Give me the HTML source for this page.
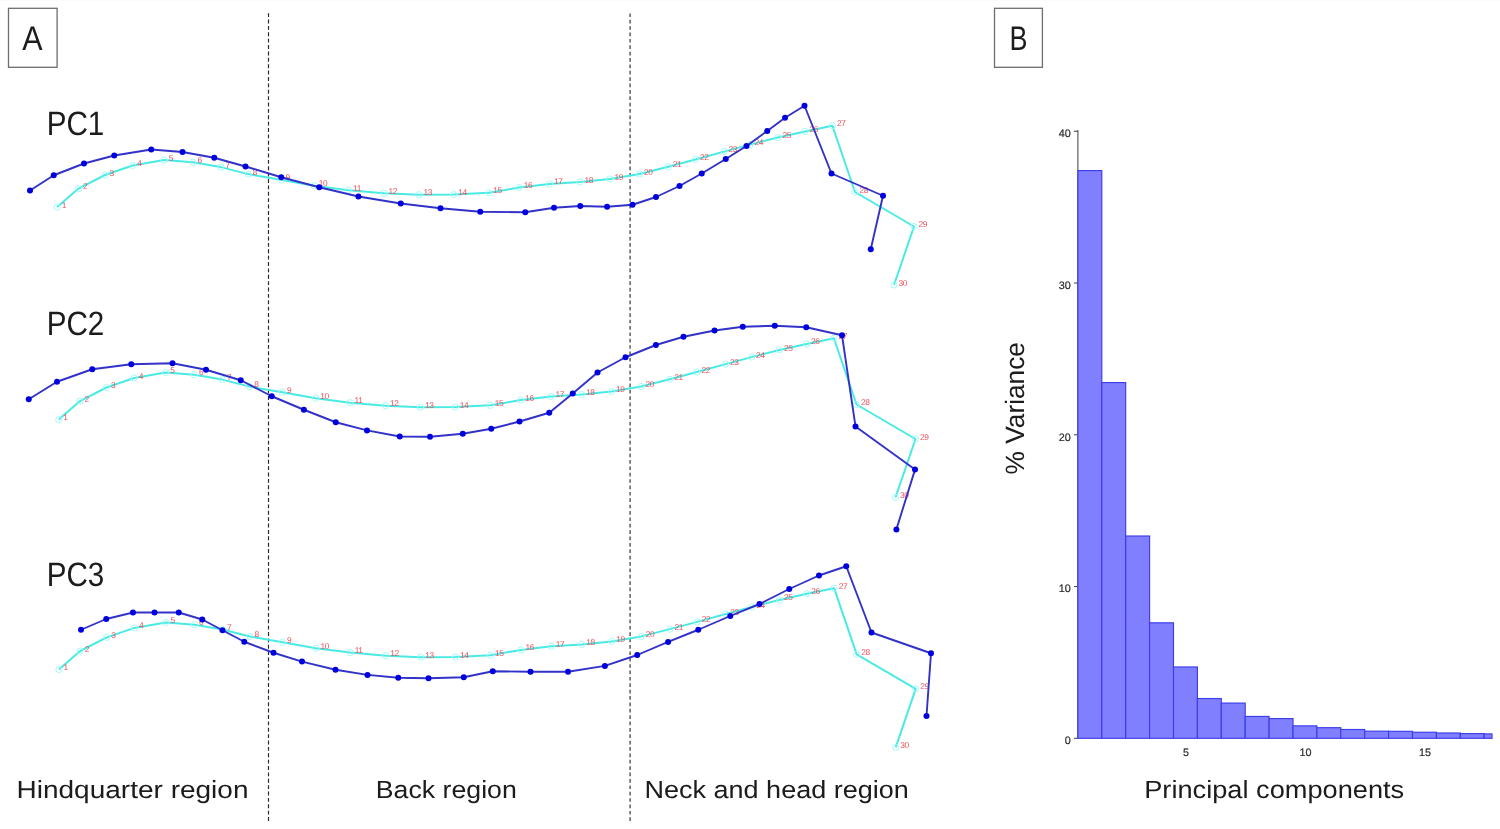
<!DOCTYPE html>
<html lang="en"><head><meta charset="utf-8"><title>PCA shape changes and variance</title>
<style>html,body{margin:0;padding:0;background:#fff;overflow:hidden}body{width:1500px;height:829px;font-family:"Liberation Sans",Arial,sans-serif}svg{display:block}text{font-family:"Liberation Sans",Arial,sans-serif;text-rendering:geometricPrecision}</style>
</head><body>
<svg width="1500" height="829" viewBox="0 0 1500 829">
<defs><filter id="soft" x="0" y="0" width="1500" height="829" filterUnits="userSpaceOnUse"><feGaussianBlur stdDeviation="0.45"/></filter><filter id="soft2" x="0" y="80" width="980" height="690" filterUnits="userSpaceOnUse"><feGaussianBlur stdDeviation="0.5"/></filter></defs>
<rect x="0" y="0" width="1500" height="829" fill="#ffffff"/>
<rect x="0" y="0" width="1500" height="1" fill="#fbfbfb"/>
<g filter="url(#soft)">
<g stroke="#2a2a2a" stroke-width="1.2" stroke-dasharray="3.9 2.48" fill="none">
<line x1="268.5" y1="13.2" x2="268.5" y2="821.5"/>
<line x1="630.1" y1="13.4" x2="630.1" y2="821.5" stroke-width="1.6" stroke="#666666" stroke-dasharray="3.7 2.68"/>
</g>
<g fill="none" stroke="#6e6e6e" stroke-width="1.3">
<rect x="8.5" y="8.3" width="48.6" height="59"/>
<rect x="994.5" y="8.3" width="47.9" height="59"/>
</g>
<text x="22.2" y="50" font-size="34.3" fill="#1a1a1a" textLength="20.3" lengthAdjust="spacingAndGlyphs">A</text>
<text x="1009.5" y="49.9" font-size="34.3" fill="#1a1a1a" textLength="18" lengthAdjust="spacingAndGlyphs">B</text>
<text x="46.7" y="134.5" font-size="33.8" fill="#1a1a1a" textLength="57.6" lengthAdjust="spacingAndGlyphs">PC1</text>
<text x="46.7" y="335" font-size="33.8" fill="#1a1a1a" textLength="57.6" lengthAdjust="spacingAndGlyphs">PC2</text>
<text x="46.7" y="585.5" font-size="33.8" fill="#1a1a1a" textLength="57.6" lengthAdjust="spacingAndGlyphs">PC3</text>
<text x="16.5" y="798.3" font-size="24.7" fill="#1a1a1a" textLength="232" lengthAdjust="spacingAndGlyphs">Hindquarter region</text>
<text x="375.8" y="798.3" font-size="24.7" fill="#1a1a1a" textLength="141" lengthAdjust="spacingAndGlyphs">Back region</text>
<text x="644.4" y="798.3" font-size="24.7" fill="#1a1a1a" textLength="264.5" lengthAdjust="spacingAndGlyphs">Neck and head region</text>
<text x="1144.2" y="798.3" font-size="24.9" fill="#1a1a1a" textLength="260" lengthAdjust="spacingAndGlyphs">Principal components</text>
<text transform="translate(1024.2 474.5) rotate(-90)" font-size="26.5" fill="#1a1a1a" textLength="132.5" lengthAdjust="spacingAndGlyphs">% Variance</text>
<g filter="url(#soft2)">
<polyline points="57.25,207.10 78.50,188.60 105.00,175.00 132.60,165.50 164.10,160.00 192.80,162.25 220.80,167.10 248.20,174.10 280.80,179.80 314.20,185.75 348.40,190.20 384.00,193.25 419.00,194.75 453.75,194.60 488.75,192.85 519.10,187.50 549.50,183.90 580.00,182.00 610.00,179.00 639.50,174.00 668.20,166.75 695.40,159.50 724.00,151.60 750.00,144.60 777.80,137.50 805.00,131.40 832.40,125.75 855.00,192.00 914.00,226.50 894.00,285.00" fill="none" stroke="#4aeae4" stroke-width="2" stroke-linejoin="round"/>
<g fill="none" stroke="#9cf8f8" stroke-width="0.9">
<circle cx="57.25" cy="207.10" r="3.1"/>
<circle cx="78.50" cy="188.60" r="3.1"/>
<circle cx="105.00" cy="175.00" r="3.1"/>
<circle cx="132.60" cy="165.50" r="3.1"/>
<circle cx="164.10" cy="160.00" r="3.1"/>
<circle cx="192.80" cy="162.25" r="3.1"/>
<circle cx="220.80" cy="167.10" r="3.1"/>
<circle cx="248.20" cy="174.10" r="3.1"/>
<circle cx="280.80" cy="179.80" r="3.1"/>
<circle cx="314.20" cy="185.75" r="3.1"/>
<circle cx="348.40" cy="190.20" r="3.1"/>
<circle cx="384.00" cy="193.25" r="3.1"/>
<circle cx="419.00" cy="194.75" r="3.1"/>
<circle cx="453.75" cy="194.60" r="3.1"/>
<circle cx="488.75" cy="192.85" r="3.1"/>
<circle cx="519.10" cy="187.50" r="3.1"/>
<circle cx="549.50" cy="183.90" r="3.1"/>
<circle cx="580.00" cy="182.00" r="3.1"/>
<circle cx="610.00" cy="179.00" r="3.1"/>
<circle cx="639.50" cy="174.00" r="3.1"/>
<circle cx="668.20" cy="166.75" r="3.1"/>
<circle cx="695.40" cy="159.50" r="3.1"/>
<circle cx="724.00" cy="151.60" r="3.1"/>
<circle cx="750.00" cy="144.60" r="3.1"/>
<circle cx="777.80" cy="137.50" r="3.1"/>
<circle cx="805.00" cy="131.40" r="3.1"/>
<circle cx="832.40" cy="125.75" r="3.1"/>
<circle cx="855.00" cy="192.00" r="3.1"/>
<circle cx="914.00" cy="226.50" r="3.1"/>
<circle cx="894.00" cy="285.00" r="3.1"/>
</g>
<g font-size="8.4" fill="#e9505a" letter-spacing="-0.4">
<text x="61.85" y="207.60">1</text>
<text x="83.10" y="189.10">2</text>
<text x="109.60" y="175.50">3</text>
<text x="137.20" y="166.00">4</text>
<text x="168.70" y="160.50">5</text>
<text x="197.40" y="162.75">6</text>
<text x="225.40" y="167.60">7</text>
<text x="252.80" y="174.60">8</text>
<text x="285.40" y="180.30">9</text>
<text x="318.80" y="186.25">10</text>
<text x="353.00" y="190.70">11</text>
<text x="388.60" y="193.75">12</text>
<text x="423.60" y="195.25">13</text>
<text x="458.35" y="195.10">14</text>
<text x="493.35" y="193.35">15</text>
<text x="523.70" y="188.00">16</text>
<text x="554.10" y="184.40">17</text>
<text x="584.60" y="182.50">18</text>
<text x="614.60" y="179.50">19</text>
<text x="644.10" y="174.50">20</text>
<text x="672.80" y="167.25">21</text>
<text x="700.00" y="160.00">22</text>
<text x="728.60" y="152.10">23</text>
<text x="754.60" y="145.10">24</text>
<text x="782.40" y="138.00">25</text>
<text x="809.60" y="131.90">26</text>
<text x="837.00" y="126.25">27</text>
<text x="859.60" y="192.50">28</text>
<text x="918.60" y="227.00">29</text>
<text x="898.60" y="285.50">30</text>
</g>
<polyline points="30.00,190.50 53.75,175.25 84.00,163.50 114.25,155.50 151.25,149.50 182.50,152.00 214.25,157.75 245.50,166.50 281.25,177.25 319.25,187.25 358.40,196.50 400.75,203.50 440.50,208.25 480.25,211.75 525.25,212.25 554.00,207.75 580.25,206.00 607.10,206.75 632.50,204.75 656.00,197.00 679.50,186.00 701.75,173.50 725.75,159.00 746.50,146.00 767.25,131.00 785.00,117.75 804.50,105.75 831.50,173.50 883.00,195.75 870.75,249.25" fill="none" stroke="#3232c8" stroke-width="1.9" stroke-linejoin="round"/>
<g fill="#0606de">
<circle cx="30.00" cy="190.50" r="3.0"/>
<circle cx="53.75" cy="175.25" r="3.0"/>
<circle cx="84.00" cy="163.50" r="3.0"/>
<circle cx="114.25" cy="155.50" r="3.0"/>
<circle cx="151.25" cy="149.50" r="3.0"/>
<circle cx="182.50" cy="152.00" r="3.0"/>
<circle cx="214.25" cy="157.75" r="3.0"/>
<circle cx="245.50" cy="166.50" r="3.0"/>
<circle cx="281.25" cy="177.25" r="3.0"/>
<circle cx="319.25" cy="187.25" r="3.0"/>
<circle cx="358.40" cy="196.50" r="3.0"/>
<circle cx="400.75" cy="203.50" r="3.0"/>
<circle cx="440.50" cy="208.25" r="3.0"/>
<circle cx="480.25" cy="211.75" r="3.0"/>
<circle cx="525.25" cy="212.25" r="3.0"/>
<circle cx="554.00" cy="207.75" r="3.0"/>
<circle cx="580.25" cy="206.00" r="3.0"/>
<circle cx="607.10" cy="206.75" r="3.0"/>
<circle cx="632.50" cy="204.75" r="3.0"/>
<circle cx="656.00" cy="197.00" r="3.0"/>
<circle cx="679.50" cy="186.00" r="3.0"/>
<circle cx="701.75" cy="173.50" r="3.0"/>
<circle cx="725.75" cy="159.00" r="3.0"/>
<circle cx="746.50" cy="146.00" r="3.0"/>
<circle cx="767.25" cy="131.00" r="3.0"/>
<circle cx="785.00" cy="117.75" r="3.0"/>
<circle cx="804.50" cy="105.75" r="3.0"/>
<circle cx="831.50" cy="173.50" r="3.0"/>
<circle cx="883.00" cy="195.75" r="3.0"/>
<circle cx="870.75" cy="249.25" r="3.0"/>
</g>
<polyline points="58.75,419.60 80.00,401.10 106.50,387.50 134.10,378.00 165.60,372.50 194.30,374.75 222.30,379.60 249.70,386.60 282.30,392.30 315.70,398.25 349.90,402.70 385.50,405.75 420.50,407.25 455.25,407.10 490.25,405.35 520.60,400.00 551.00,396.40 581.50,394.50 611.50,391.50 641.00,386.50 669.70,379.25 696.90,372.00 725.50,364.10 751.50,357.10 779.30,350.00 806.50,343.90 833.90,338.25 856.50,404.50 915.50,439.00 895.50,497.50" fill="none" stroke="#4aeae4" stroke-width="2" stroke-linejoin="round"/>
<g fill="none" stroke="#9cf8f8" stroke-width="0.9">
<circle cx="58.75" cy="419.60" r="3.1"/>
<circle cx="80.00" cy="401.10" r="3.1"/>
<circle cx="106.50" cy="387.50" r="3.1"/>
<circle cx="134.10" cy="378.00" r="3.1"/>
<circle cx="165.60" cy="372.50" r="3.1"/>
<circle cx="194.30" cy="374.75" r="3.1"/>
<circle cx="222.30" cy="379.60" r="3.1"/>
<circle cx="249.70" cy="386.60" r="3.1"/>
<circle cx="282.30" cy="392.30" r="3.1"/>
<circle cx="315.70" cy="398.25" r="3.1"/>
<circle cx="349.90" cy="402.70" r="3.1"/>
<circle cx="385.50" cy="405.75" r="3.1"/>
<circle cx="420.50" cy="407.25" r="3.1"/>
<circle cx="455.25" cy="407.10" r="3.1"/>
<circle cx="490.25" cy="405.35" r="3.1"/>
<circle cx="520.60" cy="400.00" r="3.1"/>
<circle cx="551.00" cy="396.40" r="3.1"/>
<circle cx="581.50" cy="394.50" r="3.1"/>
<circle cx="611.50" cy="391.50" r="3.1"/>
<circle cx="641.00" cy="386.50" r="3.1"/>
<circle cx="669.70" cy="379.25" r="3.1"/>
<circle cx="696.90" cy="372.00" r="3.1"/>
<circle cx="725.50" cy="364.10" r="3.1"/>
<circle cx="751.50" cy="357.10" r="3.1"/>
<circle cx="779.30" cy="350.00" r="3.1"/>
<circle cx="806.50" cy="343.90" r="3.1"/>
<circle cx="833.90" cy="338.25" r="3.1"/>
<circle cx="856.50" cy="404.50" r="3.1"/>
<circle cx="915.50" cy="439.00" r="3.1"/>
<circle cx="895.50" cy="497.50" r="3.1"/>
</g>
<g font-size="8.4" fill="#e9505a" letter-spacing="-0.4">
<text x="63.35" y="420.10">1</text>
<text x="84.60" y="401.60">2</text>
<text x="111.10" y="388.00">3</text>
<text x="138.70" y="378.50">4</text>
<text x="170.20" y="373.00">5</text>
<text x="198.90" y="375.25">6</text>
<text x="226.90" y="380.10">7</text>
<text x="254.30" y="387.10">8</text>
<text x="286.90" y="392.80">9</text>
<text x="320.30" y="398.75">10</text>
<text x="354.50" y="403.20">11</text>
<text x="390.10" y="406.25">12</text>
<text x="425.10" y="407.75">13</text>
<text x="459.85" y="407.60">14</text>
<text x="494.85" y="405.85">15</text>
<text x="525.20" y="400.50">16</text>
<text x="555.60" y="396.90">17</text>
<text x="586.10" y="395.00">18</text>
<text x="616.10" y="392.00">19</text>
<text x="645.60" y="387.00">20</text>
<text x="674.30" y="379.75">21</text>
<text x="701.50" y="372.50">22</text>
<text x="730.10" y="364.60">23</text>
<text x="756.10" y="357.60">24</text>
<text x="783.90" y="350.50">25</text>
<text x="811.10" y="344.40">26</text>
<text x="838.50" y="338.75">27</text>
<text x="861.10" y="405.00">28</text>
<text x="920.10" y="439.50">29</text>
<text x="900.10" y="498.00">30</text>
</g>
<polyline points="28.75,399.25 57.00,381.75 92.25,369.25 131.25,364.25 172.50,363.25 206.00,369.75 240.75,380.25 271.75,396.25 303.90,409.75 335.75,422.25 367.00,430.40 399.75,436.50 430.00,436.75 462.75,433.75 491.25,428.75 519.50,421.50 549.25,412.75 572.75,393.50 597.50,372.50 625.50,357.25 655.90,345.00 683.50,336.75 714.50,330.50 742.75,326.75 774.75,325.75 806.25,327.25 842.00,335.25 855.50,426.40 915.00,469.60 896.40,529.40" fill="none" stroke="#3232c8" stroke-width="1.9" stroke-linejoin="round"/>
<g fill="#0606de">
<circle cx="28.75" cy="399.25" r="3.0"/>
<circle cx="57.00" cy="381.75" r="3.0"/>
<circle cx="92.25" cy="369.25" r="3.0"/>
<circle cx="131.25" cy="364.25" r="3.0"/>
<circle cx="172.50" cy="363.25" r="3.0"/>
<circle cx="206.00" cy="369.75" r="3.0"/>
<circle cx="240.75" cy="380.25" r="3.0"/>
<circle cx="271.75" cy="396.25" r="3.0"/>
<circle cx="303.90" cy="409.75" r="3.0"/>
<circle cx="335.75" cy="422.25" r="3.0"/>
<circle cx="367.00" cy="430.40" r="3.0"/>
<circle cx="399.75" cy="436.50" r="3.0"/>
<circle cx="430.00" cy="436.75" r="3.0"/>
<circle cx="462.75" cy="433.75" r="3.0"/>
<circle cx="491.25" cy="428.75" r="3.0"/>
<circle cx="519.50" cy="421.50" r="3.0"/>
<circle cx="549.25" cy="412.75" r="3.0"/>
<circle cx="572.75" cy="393.50" r="3.0"/>
<circle cx="597.50" cy="372.50" r="3.0"/>
<circle cx="625.50" cy="357.25" r="3.0"/>
<circle cx="655.90" cy="345.00" r="3.0"/>
<circle cx="683.50" cy="336.75" r="3.0"/>
<circle cx="714.50" cy="330.50" r="3.0"/>
<circle cx="742.75" cy="326.75" r="3.0"/>
<circle cx="774.75" cy="325.75" r="3.0"/>
<circle cx="806.25" cy="327.25" r="3.0"/>
<circle cx="842.00" cy="335.25" r="3.0"/>
<circle cx="855.50" cy="426.40" r="3.0"/>
<circle cx="915.00" cy="469.60" r="3.0"/>
<circle cx="896.40" cy="529.40" r="3.0"/>
</g>
<polyline points="58.95,669.50 80.20,651.00 106.70,637.40 134.30,627.90 165.80,622.40 194.50,624.65 222.50,629.50 249.90,636.50 282.50,642.20 315.90,648.15 350.10,652.60 385.70,655.65 420.70,657.15 455.45,657.00 490.45,655.25 520.80,649.90 551.20,646.30 581.70,644.40 611.70,641.40 641.20,636.40 669.90,629.15 697.10,621.90 725.70,614.00 751.70,607.00 779.50,599.90 806.70,593.80 834.10,588.15 856.70,654.40 915.70,688.90 895.70,747.40" fill="none" stroke="#4aeae4" stroke-width="2" stroke-linejoin="round"/>
<g fill="none" stroke="#9cf8f8" stroke-width="0.9">
<circle cx="58.95" cy="669.50" r="3.1"/>
<circle cx="80.20" cy="651.00" r="3.1"/>
<circle cx="106.70" cy="637.40" r="3.1"/>
<circle cx="134.30" cy="627.90" r="3.1"/>
<circle cx="165.80" cy="622.40" r="3.1"/>
<circle cx="194.50" cy="624.65" r="3.1"/>
<circle cx="222.50" cy="629.50" r="3.1"/>
<circle cx="249.90" cy="636.50" r="3.1"/>
<circle cx="282.50" cy="642.20" r="3.1"/>
<circle cx="315.90" cy="648.15" r="3.1"/>
<circle cx="350.10" cy="652.60" r="3.1"/>
<circle cx="385.70" cy="655.65" r="3.1"/>
<circle cx="420.70" cy="657.15" r="3.1"/>
<circle cx="455.45" cy="657.00" r="3.1"/>
<circle cx="490.45" cy="655.25" r="3.1"/>
<circle cx="520.80" cy="649.90" r="3.1"/>
<circle cx="551.20" cy="646.30" r="3.1"/>
<circle cx="581.70" cy="644.40" r="3.1"/>
<circle cx="611.70" cy="641.40" r="3.1"/>
<circle cx="641.20" cy="636.40" r="3.1"/>
<circle cx="669.90" cy="629.15" r="3.1"/>
<circle cx="697.10" cy="621.90" r="3.1"/>
<circle cx="725.70" cy="614.00" r="3.1"/>
<circle cx="751.70" cy="607.00" r="3.1"/>
<circle cx="779.50" cy="599.90" r="3.1"/>
<circle cx="806.70" cy="593.80" r="3.1"/>
<circle cx="834.10" cy="588.15" r="3.1"/>
<circle cx="856.70" cy="654.40" r="3.1"/>
<circle cx="915.70" cy="688.90" r="3.1"/>
<circle cx="895.70" cy="747.40" r="3.1"/>
</g>
<g font-size="8.4" fill="#e9505a" letter-spacing="-0.4">
<text x="63.55" y="670.00">1</text>
<text x="84.80" y="651.50">2</text>
<text x="111.30" y="637.90">3</text>
<text x="138.90" y="628.40">4</text>
<text x="170.40" y="622.90">5</text>
<text x="199.10" y="625.15">6</text>
<text x="227.10" y="630.00">7</text>
<text x="254.50" y="637.00">8</text>
<text x="287.10" y="642.70">9</text>
<text x="320.50" y="648.65">10</text>
<text x="354.70" y="653.10">11</text>
<text x="390.30" y="656.15">12</text>
<text x="425.30" y="657.65">13</text>
<text x="460.05" y="657.50">14</text>
<text x="495.05" y="655.75">15</text>
<text x="525.40" y="650.40">16</text>
<text x="555.80" y="646.80">17</text>
<text x="586.30" y="644.90">18</text>
<text x="616.30" y="641.90">19</text>
<text x="645.80" y="636.90">20</text>
<text x="674.50" y="629.65">21</text>
<text x="701.70" y="622.40">22</text>
<text x="730.30" y="614.50">23</text>
<text x="756.30" y="607.50">24</text>
<text x="784.10" y="600.40">25</text>
<text x="811.30" y="594.30">26</text>
<text x="838.70" y="588.65">27</text>
<text x="861.30" y="654.90">28</text>
<text x="920.30" y="689.40">29</text>
<text x="900.30" y="747.90">30</text>
</g>
<polyline points="81.00,629.75 106.25,619.00 133.00,612.50 154.50,612.50 178.75,612.50 202.25,619.50 222.50,630.25 244.25,641.75 273.50,652.75 302.00,661.60 335.50,669.75 367.50,674.90 398.25,677.75 428.50,678.25 463.75,677.25 492.75,671.25 530.50,671.75 568.00,671.75 604.90,665.90 637.25,655.00 668.10,641.90 698.25,629.75 730.25,616.00 759.50,604.00 789.25,589.00 819.00,575.50 846.25,566.25 871.50,632.50 931.00,653.25 926.50,716.00" fill="none" stroke="#3232c8" stroke-width="1.9" stroke-linejoin="round"/>
<g fill="#0606de">
<circle cx="81.00" cy="629.75" r="3.0"/>
<circle cx="106.25" cy="619.00" r="3.0"/>
<circle cx="133.00" cy="612.50" r="3.0"/>
<circle cx="154.50" cy="612.50" r="3.0"/>
<circle cx="178.75" cy="612.50" r="3.0"/>
<circle cx="202.25" cy="619.50" r="3.0"/>
<circle cx="222.50" cy="630.25" r="3.0"/>
<circle cx="244.25" cy="641.75" r="3.0"/>
<circle cx="273.50" cy="652.75" r="3.0"/>
<circle cx="302.00" cy="661.60" r="3.0"/>
<circle cx="335.50" cy="669.75" r="3.0"/>
<circle cx="367.50" cy="674.90" r="3.0"/>
<circle cx="398.25" cy="677.75" r="3.0"/>
<circle cx="428.50" cy="678.25" r="3.0"/>
<circle cx="463.75" cy="677.25" r="3.0"/>
<circle cx="492.75" cy="671.25" r="3.0"/>
<circle cx="530.50" cy="671.75" r="3.0"/>
<circle cx="568.00" cy="671.75" r="3.0"/>
<circle cx="604.90" cy="665.90" r="3.0"/>
<circle cx="637.25" cy="655.00" r="3.0"/>
<circle cx="668.10" cy="641.90" r="3.0"/>
<circle cx="698.25" cy="629.75" r="3.0"/>
<circle cx="730.25" cy="616.00" r="3.0"/>
<circle cx="759.50" cy="604.00" r="3.0"/>
<circle cx="789.25" cy="589.00" r="3.0"/>
<circle cx="819.00" cy="575.50" r="3.0"/>
<circle cx="846.25" cy="566.25" r="3.0"/>
<circle cx="871.50" cy="632.50" r="3.0"/>
<circle cx="931.00" cy="653.25" r="3.0"/>
<circle cx="926.50" cy="716.00" r="3.0"/>
</g>
</g>
<g stroke="#4e4e4e" stroke-width="1.1" fill="none">
<line x1="1077.9" y1="130.1" x2="1077.9" y2="738.3"/>
<line x1="1074.0" y1="738.30" x2="1077.9" y2="738.30"/>
<line x1="1074.0" y1="586.55" x2="1077.9" y2="586.55"/>
<line x1="1074.0" y1="434.80" x2="1077.9" y2="434.80"/>
<line x1="1074.0" y1="283.05" x2="1077.9" y2="283.05"/>
<line x1="1074.0" y1="131.30" x2="1077.9" y2="131.30"/>
</g>
<g fill="#8080ff" stroke="#3c3cec" stroke-width="1.15">
<rect x="1077.90" y="170.60" width="23.90" height="567.70"/>
<rect x="1101.80" y="382.60" width="23.90" height="355.70"/>
<rect x="1125.70" y="536.02" width="23.90" height="202.28"/>
<rect x="1149.60" y="622.82" width="23.90" height="115.48"/>
<rect x="1173.50" y="666.98" width="23.90" height="71.32"/>
<rect x="1197.40" y="698.54" width="23.90" height="39.76"/>
<rect x="1221.30" y="703.09" width="23.90" height="35.21"/>
<rect x="1245.20" y="716.45" width="23.90" height="21.85"/>
<rect x="1269.10" y="718.57" width="23.90" height="19.73"/>
<rect x="1293.00" y="725.86" width="23.90" height="12.44"/>
<rect x="1316.90" y="727.68" width="23.90" height="10.62"/>
<rect x="1340.80" y="729.50" width="23.90" height="8.80"/>
<rect x="1364.70" y="731.17" width="23.90" height="7.13"/>
<rect x="1388.60" y="731.32" width="23.90" height="6.98"/>
<rect x="1412.50" y="732.23" width="23.90" height="6.07"/>
<rect x="1436.40" y="732.99" width="23.90" height="5.31"/>
<rect x="1460.30" y="733.60" width="23.90" height="4.70"/>
<rect x="1484.20" y="733.90" width="7.80" height="4.40"/>
</g>
<g font-size="10.8" fill="#2c2c2c" stroke="#2c2c2c" stroke-width="0.2" text-anchor="end">
<text x="1070.8" y="744.20">0</text>
<text x="1070.8" y="592.45">10</text>
<text x="1070.8" y="440.70">20</text>
<text x="1070.8" y="288.95">30</text>
<text x="1070.8" y="137.20">40</text>
</g>
<g font-size="10.8" fill="#2c2c2c" stroke="#2c2c2c" stroke-width="0.2" text-anchor="middle">
<text x="1186.05" y="756.4">5</text>
<text x="1305.55" y="756.4">10</text>
<text x="1425.05" y="756.4">15</text>
</g>
</g>
</svg>
</body></html>
